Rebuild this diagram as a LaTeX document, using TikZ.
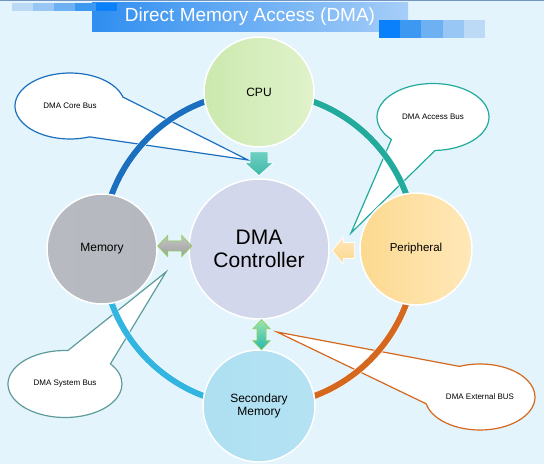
\documentclass[tikz,border=0pt]{standalone}
\usepackage{fontspec}
\setmainfont{Liberation Sans}
\usepackage{tikz}
\usetikzlibrary{positioning, shapes.callouts}

\definecolor{backdrop}{HTML}{E4F4FC}
\definecolor{topline}{HTML}{7194C0}
\definecolor{titleleft}{HTML}{2F8EF0}
\definecolor{titleright}{HTML}{A6CEF8}
\definecolor{sqa}{HTML}{BCD9F6}
\definecolor{sqb}{HTML}{99C7F5}
\definecolor{sqc}{HTML}{6EB1F2}
\definecolor{sqd}{HTML}{3D98F2}
\definecolor{sqe}{HTML}{0A80FA}
\definecolor{corebus}{HTML}{1A6FBE}
\definecolor{accessbus}{HTML}{22AA9C}
\definecolor{systembus}{HTML}{5E9C9A}
\definecolor{externalbus}{HTML}{D4681F}
\definecolor{lowbus}{HTML}{33B5E2}
\definecolor{arrowedge}{HTML}{8FD062}

\tikzstyle{unit} = [circle, draw=white, line width=1.5pt, inner sep=0pt, align=center, font=\fontsize{12}{13}\selectfont]
\tikzstyle{bubble} = [ellipse callout, draw, fill=white, line width=1.2pt, inner sep=0pt, minimum width=110pt, minimum height=66pt, font=\fontsize{8}{9}\selectfont]
\tikzstyle{bus} = [line width=6pt]
\tikzstyle{glow} = [white, line width=7pt, xshift=1.5pt, yshift=-1.5pt]
\tikzstyle{blockarrow} = [line width=0.8pt, line join=miter]

\begin{document}
\begin{tikzpicture}[x=1pt, y=1pt]
    % Background and frame.
    \useasboundingbox (0,0) rectangle (544,464);
    \fill [backdrop] (0,0) rectangle (544,464);
    \draw [topline, line width=1pt] (0,463) -- (544,463);

    % Title banner.
    \shade [left color=titleleft, right color=titleright] (92,432) rectangle (408,461);
    \foreach \i/\c in {0/sqa, 1/sqb, 2/sqc, 3/sqd, 4/sqe} {%
        \fill [\c] ({12+21*\i},453) rectangle ++(21,8);
    }
    \foreach \i/\c in {0/sqe, 1/sqd, 2/sqc, 3/sqb, 4/sqa} {%
        \fill [\c] ({379+21.2*\i},426) rectangle ++(21.2,18);
    }
    \node (title) [text=white, font=\fontsize{19}{21}\selectfont] at (250,447) {Direct Memory Access (DMA)};

    % Pointer tips.
    \node (core pointer) [coordinate] at (248,304) {};
    \node (access pointer) [coordinate] at (351,231) {};
    \node (system pointer) [coordinate] at (166,192) {};
    \node (external pointer) [coordinate] at (277,132) {};

    % Bus callouts.
    \node (core bus) [bubble, draw=corebus, callout absolute pointer=(core pointer), callout pointer arc=85] at (70,358) {DMA Core Bus};
    \node (access bus) [bubble, draw=accessbus, minimum width=112pt, minimum height=67pt, callout absolute pointer=(access pointer), callout pointer arc=50] at (433,347) {DMA Access Bus};
    \node (system bus) [bubble, draw=systembus, minimum width=114pt, minimum height=67pt, callout absolute pointer=(system pointer), callout pointer arc=50] at (65,80) {DMA System Bus};
    \node (external bus) [bubble, draw=externalbus, callout absolute pointer=(external pointer), callout pointer arc=80] at (480,67) {DMA External BUS};

    % Ring of buses.
    \coordinate (ring) at (259,215);
    \foreach \a/\c in {90/corebus, 0/accessbus, -90/externalbus, 180/lowbus} {%
        \draw [glow] (ring) ++(\a:157) arc [start angle=\a, end angle=\a+90, radius=157];
    }
    \foreach \a/\c in {90/corebus, 0/accessbus, -90/externalbus, 180/lowbus} {%
        \draw [bus, \c] (ring) ++(\a:157) arc [start angle=\a, end angle=\a+90, radius=157];
    }

    % Units.
    \node (controller) [unit, minimum size=140pt, left color={rgb,255:red,211;green,215;blue,236}, middle color={rgb,255:red,226;green,229;blue,243}, right color={rgb,255:red,211;green,215;blue,235}, font=\fontsize{21}{23}\selectfont] at (ring) {DMA\\Controller};
    \node (cpu) [unit, minimum size=110pt, left color={rgb,255:red,203;green,233;blue,174}, right color={rgb,255:red,224;green,242;blue,203}] at ([shift={(90:157)}]ring) {CPU};
    \node (memory) [unit, minimum size=110pt, left color={rgb,255:red,183;green,186;blue,193}, middle color={rgb,255:red,206;green,209;blue,215}, right color={rgb,255:red,181;green,184;blue,191}] at ([shift={(180:157)}]ring) {Memory};
    \node (peripheral) [unit, minimum size=112pt, left color={rgb,255:red,252;green,217;blue,144}, right color={rgb,255:red,255;green,232;blue,184}, font=\fontsize{11.5}{13}\selectfont] at ([shift={(0:157)}]ring) {Peripheral};
    \node (secondary) [unit, minimum size=112pt, left color={rgb,255:red,174;green,224;blue,242}, middle color={rgb,255:red,204;green,237;blue,249}, right color={rgb,255:red,180;green,226;blue,243}] at ([shift={(-90:157)}]ring) {Secondary\\Memory};

    % Block arrows.
    \node (core tip) [coordinate, below=4pt of cpu] {};
    \shade [blockarrow, top color={rgb,255:red,110;green,208;blue,194}, bottom color={rgb,255:red,64;green,184;blue,168}, draw=white]
        (core tip) ++(-9,0) -- ++(18,0) -- ++(0,-11) -- ++(5.5,0) -- ++(-14.5,-13) -- ++(-14.5,13) -- ++(5.5,0) -- cycle;
    \shade [blockarrow, top color=gray!45, bottom color=gray!75, draw=arrowedge]
        (memory.east) ++(0,3) -- ++(10,10.5) -- ++(0,-5.5) -- ++(14,0) -- ++(0,5.5) -- ++(10,-10.5) -- ++(-10,-10.5) -- ++(0,5.5) -- ++(-14,0) -- ++(0,-5.5) -- cycle;
    \shade [blockarrow, top color={rgb,255:red,255;green,232;blue,186}, bottom color={rgb,255:red,252;green,214;blue,140}, draw=white]
        (peripheral.west) ++(-5,6.5) -- ++(-11,0) -- ++(0,5.5) -- ++(-11,-13.5) -- ++(11,-13.5) -- ++(0,5.5) -- ++(11,0) -- cycle;
    \shade [blockarrow, top color={rgb,255:red,160;green,228;blue,170}, bottom color={rgb,255:red,36;green,184;blue,176}, draw=arrowedge]
        (controller.south) ++(2.5,0) -- ++(8.5,-9) -- ++(-4,0) -- ++(0,-12) -- ++(4,0) -- ++(-8.5,-9) -- ++(-8.5,9) -- ++(4,0) -- ++(0,12) -- ++(-4,0) -- cycle;
\end{tikzpicture}
\end{document}
